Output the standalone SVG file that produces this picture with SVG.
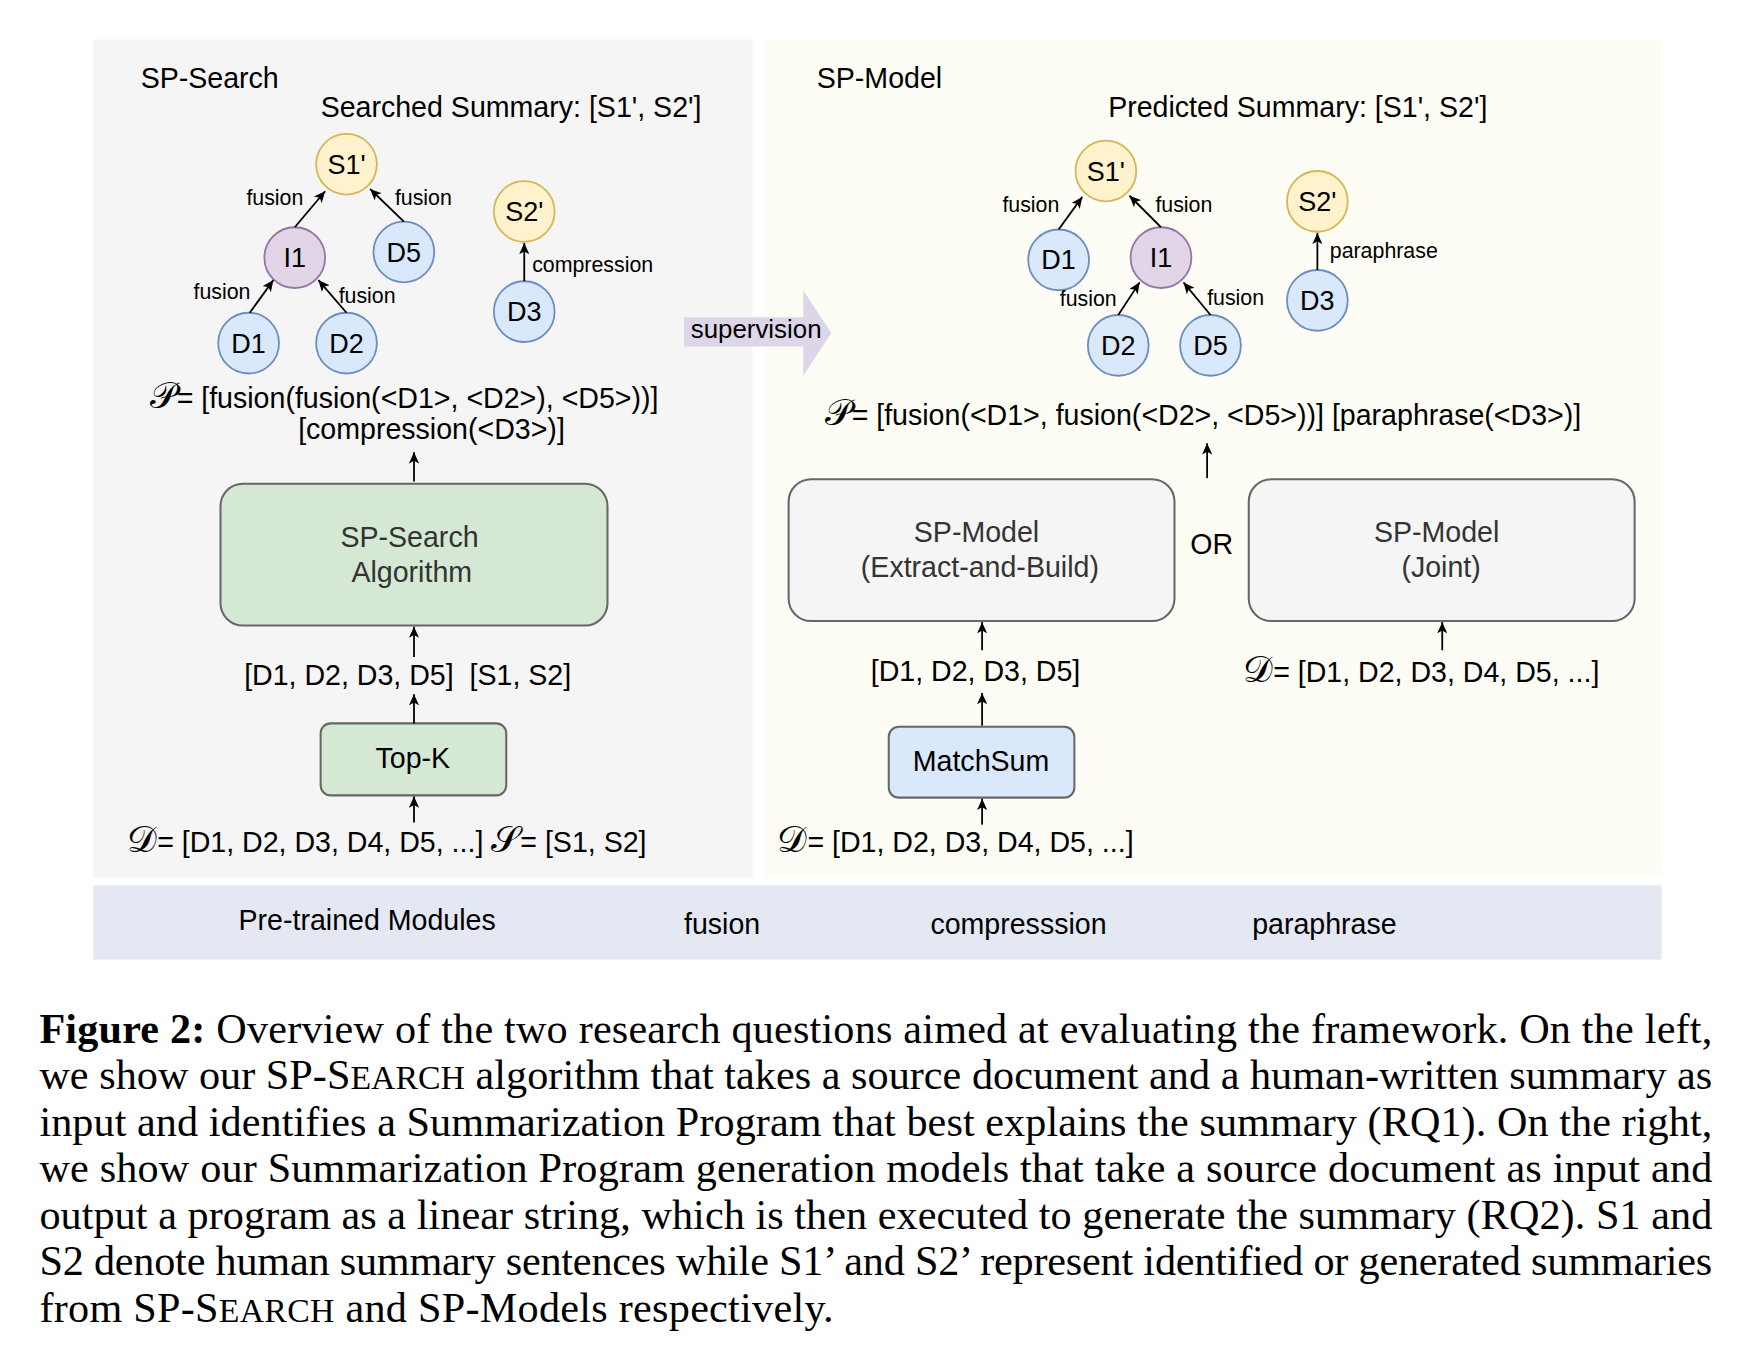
<svg xmlns="http://www.w3.org/2000/svg" width="1762" height="1372" viewBox="0 0 1762 1372">
<style>
.t{font-family:"Liberation Sans",Arial,sans-serif;font-size:25.4px;fill:#000}
.c{text-anchor:middle}
.nl{font-family:"Liberation Sans",Arial,sans-serif;font-size:24px;text-anchor:middle;fill:#000}
.el{font-family:"Liberation Sans",Arial,sans-serif;font-size:19px;fill:#000}
.bx{font-family:"Liberation Sans",Arial,sans-serif;font-size:25.4px;text-anchor:middle;fill:#333}
.cal{font-family:"DejaVu Serif","Liberation Serif",serif;font-size:33px}
.cap{font-family:"Liberation Serif","Times New Roman",serif;font-size:37.5px;fill:#000}
.sc{font-size:30px}
.doc{fill:#dae8fc;stroke:#6c8ebf;stroke-width:1.6}
.sum{fill:#fff2cc;stroke:#d6b656;stroke-width:1.6}
.int{fill:#e1d5e7;stroke:#9673a6;stroke-width:1.6}
.box{stroke:#666;stroke-width:1.8}
.edge{stroke:#000;stroke-width:1.6;fill:none;marker-end:url(#ah)}
</style>
<defs>
<marker id="ah" markerUnits="userSpaceOnUse" markerWidth="11" markerHeight="9" refX="10" refY="4.5" orient="auto">
<path d="M0,0 L10,4.5 L0,9 L2.5,4.5 z" fill="#000"/>
</marker>
</defs>
<rect width="1762" height="1372" fill="#fff"/>
<g transform="scale(1.125)">
<g id="panels">
<rect x="83" y="35" width="586" height="745" fill="#f5f5f5"/>
<rect x="680" y="35" width="797" height="745" fill="#fdfdf5"/>
<rect x="83" y="787" width="1394" height="66" fill="#e4e8f3"/>
</g>
<g id="supervision">
<polygon points="608,282 714,282 714,258 739,296 714,334 714,308 608,308" fill="#ddd6e8"/>
<text class="t" x="614" y="300" style="font-size:23px">supervision</text>
</g>
<g id="left-labels">
<text class="t" x="125" y="78">SP-Search</text>
<text class="t" x="285" y="104">Searched Summary: [S1', S2']</text>
<text class="t" x="133" y="363"><tspan class="cal">𝒫</tspan>= [fusion(fusion(&lt;D1&gt;, &lt;D2&gt;), &lt;D5&gt;))]</text>
<text class="t" x="265" y="390">[compression(&lt;D3&gt;)]</text>
<text class="t" x="217" y="609">[D1, D2, D3, D5]&#160; [S1, S2]</text>
<text class="t" x="113" y="757"><tspan class="cal">𝒟</tspan>= [D1, D2, D3, D4, D5, ...] <tspan class="cal">𝒮</tspan>= [S1, S2]</text>
</g>
<g id="L-S1p"><circle class="sum" cx="308" cy="146" r="27"/><text class="nl" x="308" y="154.5">S1'</text></g>
<g id="L-I1"><circle class="int" cx="262" cy="229" r="27"/><text class="nl" x="262" y="237.5">I1</text></g>
<g id="L-D5"><circle class="doc" cx="359" cy="224" r="27"/><text class="nl" x="359" y="232.5">D5</text></g>
<g id="L-D1"><circle class="doc" cx="221" cy="305" r="27"/><text class="nl" x="221" y="313.5">D1</text></g>
<g id="L-D2"><circle class="doc" cx="308" cy="305" r="27"/><text class="nl" x="308" y="313.5">D2</text></g>
<g id="L-S2p"><circle class="sum" cx="466" cy="188" r="27"/><text class="nl" x="466" y="196.5">S2'</text></g>
<g id="L-D3"><circle class="doc" cx="466" cy="277" r="27"/><text class="nl" x="466" y="285.5">D3</text></g>
<g id="L-search"><rect class="box" x="196" y="430" width="344" height="126" rx="20" fill="#d5e8d4"/><text class="bx" x="364" y="486">SP-Search</text><text class="bx" x="366" y="517">Algorithm</text></g>
<g id="L-topk"><rect class="box" x="285" y="643" width="165" height="64" rx="9" fill="#d5e8d4"/><text class="nl" x="367" y="683" style="font-size:25.4px">Top-K</text></g>

<g id="right-labels">
<text class="t" x="726" y="78">SP-Model</text>
<text class="t" x="985" y="104">Predicted Summary: [S1', S2']</text>
<text class="t" x="733" y="378"><tspan class="cal">𝒫</tspan>= [fusion(&lt;D1&gt;, fusion(&lt;D2&gt;, &lt;D5&gt;))] [paraphrase(&lt;D3&gt;)]</text>
<text class="t c" x="1077" y="492">OR</text>
<text class="t" x="774" y="605">[D1, D2, D3, D5]</text>
<text class="t" x="1105" y="606"><tspan class="cal">𝒟</tspan>= [D1, D2, D3, D4, D5, ...]</text>
<text class="t" x="691" y="757"><tspan class="cal">𝒟</tspan>= [D1, D2, D3, D4, D5, ...]</text>
</g>
<g id="R-S1p"><circle class="sum" cx="983" cy="152" r="27"/><text class="nl" x="983" y="160.5">S1'</text></g>
<g id="R-D1"><circle class="doc" cx="941" cy="231" r="27"/><text class="nl" x="941" y="239.5">D1</text></g>
<g id="R-I1"><circle class="int" cx="1032" cy="229" r="27"/><text class="nl" x="1032" y="237.5">I1</text></g>
<g id="R-D2"><circle class="doc" cx="994" cy="307" r="27"/><text class="nl" x="994" y="315.5">D2</text></g>
<g id="R-D5"><circle class="doc" cx="1076" cy="307" r="27"/><text class="nl" x="1076" y="315.5">D5</text></g>
<g id="R-S2p"><circle class="sum" cx="1171" cy="179" r="27"/><text class="nl" x="1171" y="187.5">S2'</text></g>
<g id="R-D3"><circle class="doc" cx="1171" cy="267" r="27"/><text class="nl" x="1171" y="275.5">D3</text></g>
<g id="R-eab"><rect class="box" x="701" y="426" width="343" height="126" rx="20" fill="#f5f5f5"/><text class="bx" x="868" y="482">SP-Model</text><text class="bx" x="871" y="513">(Extract-and-Build)</text></g>
<g id="R-joint"><rect class="box" x="1110" y="426" width="343" height="126" rx="20" fill="#f5f5f5"/><text class="bx" x="1277" y="482">SP-Model</text><text class="bx" x="1281" y="513">(Joint)</text></g>
<g id="R-matchsum"><rect class="box" x="790" y="646" width="165" height="63" rx="9" fill="#dae8fc"/><text class="nl" x="872" y="685" style="font-size:25.4px">MatchSum</text></g>

<g id="connectors">
<line class="edge" x1="262" y1="202" x2="289" y2="170"/>
<line class="edge" x1="359" y1="197" x2="329" y2="168"/>
<line class="edge" x1="222" y1="278" x2="243" y2="249"/>
<line class="edge" x1="308" y1="278" x2="283" y2="249"/>
<line class="edge" x1="466" y1="250" x2="466" y2="216"/>
<line class="edge" x1="368" y1="428" x2="368" y2="402"/>
<line class="edge" x1="368" y1="584" x2="368" y2="557"/>
<line class="edge" x1="368" y1="643" x2="368" y2="617"/>
<line class="edge" x1="368" y1="731" x2="368" y2="708"/>
<line class="edge" x1="941" y1="204" x2="962" y2="175"/>
<line class="edge" x1="1032" y1="202" x2="1004" y2="174"/>
<line class="edge" x1="994" y1="280" x2="1013" y2="251"/>
<line class="edge" x1="1076" y1="280" x2="1052" y2="251"/>
<line class="edge" x1="1171" y1="240" x2="1171" y2="207"/>
<line class="edge" x1="1073" y1="425" x2="1073" y2="394"/>
<line class="edge" x1="873" y1="578" x2="873" y2="553"/>
<line class="edge" x1="873" y1="645" x2="873" y2="616"/>
<line class="edge" x1="873" y1="733" x2="873" y2="710"/>
<line class="edge" x1="1282" y1="578" x2="1282" y2="553"/>
<text class="el" x="219" y="182">fusion</text>
<text class="el" x="351" y="182">fusion</text>
<text class="el" x="172" y="266">fusion</text>
<text class="el" x="301" y="269">fusion</text>
<text class="el" x="473" y="242">compression</text>
<text class="el" x="891" y="188">fusion</text>
<text class="el" x="1027" y="188">fusion</text>
<text class="el" x="942" y="272">fusion</text>
<text class="el" x="1073" y="271">fusion</text>
<text class="el" x="1182" y="229">paraphrase</text>
</g>

<g id="legend">
<text class="t" x="212" y="827">Pre-trained Modules</text>
<text class="t" x="608" y="830">fusion</text>
<text class="t" x="827" y="830">compresssion</text>
<text class="t" x="1113" y="830">paraphrase</text>
</g>

<g id="caption">
<text class="cap" x="35" y="927" textLength="1487" lengthAdjust="spacing"><tspan font-weight="bold">Figure 2:</tspan> Overview of the two research questions aimed at evaluating the framework. On the left,</text>
<text class="cap" x="35" y="968.3" textLength="1487" lengthAdjust="spacing">we show our SP-S<tspan class="sc">EARCH</tspan> algorithm that takes a source document and a human-written summary as</text>
<text class="cap" x="35" y="1009.6" textLength="1487" lengthAdjust="spacing">input and identifies a Summarization Program that best explains the summary (RQ1). On the right,</text>
<text class="cap" x="35" y="1050.9" textLength="1487" lengthAdjust="spacing">we show our Summarization Program generation models that take a source document as input and</text>
<text class="cap" x="35" y="1092.2" textLength="1487" lengthAdjust="spacing">output a program as a linear string, which is then executed to generate the summary (RQ2). S1 and</text>
<text class="cap" x="35" y="1133.5" textLength="1487" lengthAdjust="spacing">S2 denote human summary sentences while S1’ and S2’ represent identified or generated summaries</text>
<text class="cap" x="35" y="1174.8" textLength="706" lengthAdjust="spacing">from SP-S<tspan class="sc">EARCH</tspan> and SP-Models respectively.</text>
</g>
</g>
</svg>
